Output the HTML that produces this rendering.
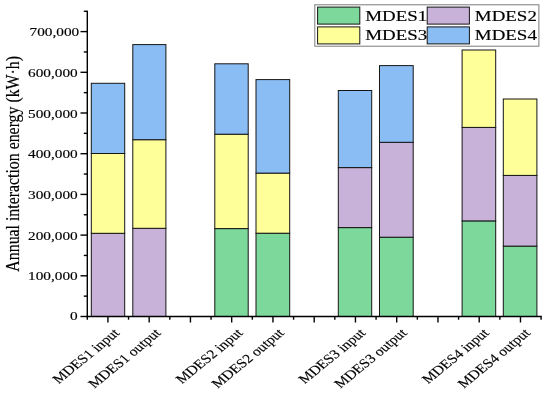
<!DOCTYPE html><html><head><meta charset="utf-8"><title>Annual interaction energy</title>
<style>html,body{margin:0;padding:0;background:#fff}svg{display:block}text{font-family:"Liberation Serif","Times New Roman",serif;fill:#000;stroke:#000;stroke-width:0.15px}</style></head><body>
<svg width="550" height="398" viewBox="0 0 550 398">
<rect width="550" height="398" fill="#fff"/>
<rect x="91.30" y="233.30" width="33.40" height="83.20" fill="#c8b2d9" stroke="#151515" stroke-width="1"/>
<rect x="91.30" y="153.50" width="33.40" height="79.80" fill="#ffff99" stroke="#151515" stroke-width="1"/>
<rect x="91.30" y="83.30" width="33.40" height="70.20" fill="#8bbdf5" stroke="#151515" stroke-width="1"/>
<rect x="132.80" y="228.30" width="33.10" height="88.20" fill="#c8b2d9" stroke="#151515" stroke-width="1"/>
<rect x="132.80" y="139.70" width="33.10" height="88.60" fill="#ffff99" stroke="#151515" stroke-width="1"/>
<rect x="132.80" y="44.60" width="33.10" height="95.10" fill="#8bbdf5" stroke="#151515" stroke-width="1"/>
<rect x="214.80" y="228.60" width="33.40" height="87.90" fill="#7dd89b" stroke="#151515" stroke-width="1"/>
<rect x="214.80" y="134.20" width="33.40" height="94.40" fill="#ffff99" stroke="#151515" stroke-width="1"/>
<rect x="214.80" y="63.80" width="33.40" height="70.40" fill="#8bbdf5" stroke="#151515" stroke-width="1"/>
<rect x="256.00" y="233.20" width="33.70" height="83.30" fill="#7dd89b" stroke="#151515" stroke-width="1"/>
<rect x="256.00" y="173.10" width="33.70" height="60.10" fill="#ffff99" stroke="#151515" stroke-width="1"/>
<rect x="256.00" y="79.60" width="33.70" height="93.50" fill="#8bbdf5" stroke="#151515" stroke-width="1"/>
<rect x="338.30" y="227.60" width="33.40" height="88.90" fill="#7dd89b" stroke="#151515" stroke-width="1"/>
<rect x="338.30" y="167.60" width="33.40" height="60.00" fill="#c8b2d9" stroke="#151515" stroke-width="1"/>
<rect x="338.30" y="90.50" width="33.40" height="77.10" fill="#8bbdf5" stroke="#151515" stroke-width="1"/>
<rect x="379.50" y="237.20" width="33.70" height="79.30" fill="#7dd89b" stroke="#151515" stroke-width="1"/>
<rect x="379.50" y="142.30" width="33.70" height="94.90" fill="#c8b2d9" stroke="#151515" stroke-width="1"/>
<rect x="379.50" y="65.60" width="33.70" height="76.70" fill="#8bbdf5" stroke="#151515" stroke-width="1"/>
<rect x="462.10" y="220.90" width="33.60" height="95.60" fill="#7dd89b" stroke="#151515" stroke-width="1"/>
<rect x="462.10" y="127.40" width="33.60" height="93.50" fill="#c8b2d9" stroke="#151515" stroke-width="1"/>
<rect x="462.10" y="50.00" width="33.60" height="77.40" fill="#ffff99" stroke="#151515" stroke-width="1"/>
<rect x="503.30" y="246.10" width="33.60" height="70.40" fill="#7dd89b" stroke="#151515" stroke-width="1"/>
<rect x="503.30" y="175.40" width="33.60" height="70.70" fill="#c8b2d9" stroke="#151515" stroke-width="1"/>
<rect x="503.30" y="99.00" width="33.60" height="76.40" fill="#ffff99" stroke="#151515" stroke-width="1"/>
<g stroke="#000" stroke-width="1.4" fill="none" stroke-linecap="butt">
<path d="M87.3 10.75V317.20"/>
<path d="M86.60 316.5H541.80"/>
<path d="M80.50 316.50H87.3"/>
<path d="M83.80 296.15H87.3"/>
<path d="M80.50 275.80H87.3"/>
<path d="M83.80 255.45H87.3"/>
<path d="M80.50 235.10H87.3"/>
<path d="M83.80 214.75H87.3"/>
<path d="M80.50 194.40H87.3"/>
<path d="M83.80 174.05H87.3"/>
<path d="M80.50 153.70H87.3"/>
<path d="M83.80 133.35H87.3"/>
<path d="M80.50 113.00H87.3"/>
<path d="M83.80 92.65H87.3"/>
<path d="M80.50 72.30H87.3"/>
<path d="M83.80 51.95H87.3"/>
<path d="M80.50 31.60H87.3"/>
<path d="M83.80 11.25H87.3"/>
<path d="M87.30 316.5V319.70"/>
<path d="M107.93 316.5V322.50"/>
<path d="M128.55 316.5V319.70"/>
<path d="M149.18 316.5V322.50"/>
<path d="M169.81 316.5V319.70"/>
<path d="M190.44 316.5V322.50"/>
<path d="M211.06 316.5V319.70"/>
<path d="M231.69 316.5V322.50"/>
<path d="M252.32 316.5V319.70"/>
<path d="M272.95 316.5V322.50"/>
<path d="M293.57 316.5V319.70"/>
<path d="M314.20 316.5V322.50"/>
<path d="M334.83 316.5V319.70"/>
<path d="M355.45 316.5V322.50"/>
<path d="M376.08 316.5V319.70"/>
<path d="M396.71 316.5V322.50"/>
<path d="M417.34 316.5V319.70"/>
<path d="M437.96 316.5V322.50"/>
<path d="M458.59 316.5V319.70"/>
<path d="M479.22 316.5V322.50"/>
<path d="M499.85 316.5V319.70"/>
<path d="M520.47 316.5V322.50"/>
<path d="M541.10 316.5V319.70"/>
</g>
<text transform="translate(77.7 320.40) scale(1.15 1)" font-size="13.3" text-anchor="end">0</text>
<text transform="translate(77.7 280.40) scale(1.15 1)" font-size="13.3" text-anchor="end">100,000</text>
<text transform="translate(77.7 239.70) scale(1.15 1)" font-size="13.3" text-anchor="end">200,000</text>
<text transform="translate(77.7 199.00) scale(1.15 1)" font-size="13.3" text-anchor="end">300,000</text>
<text transform="translate(77.7 158.30) scale(1.15 1)" font-size="13.3" text-anchor="end">400,000</text>
<text transform="translate(77.7 117.60) scale(1.15 1)" font-size="13.3" text-anchor="end">500,000</text>
<text transform="translate(77.7 76.90) scale(1.15 1)" font-size="13.3" text-anchor="end">600,000</text>
<text transform="translate(79.2 36.20) scale(1.15 1)" font-size="13.3" text-anchor="end">700,000</text>
<text transform="translate(19.1 163.8) scale(1.16 1) rotate(-90)" font-size="15.85" text-anchor="middle">Annual interaction energy (kW·h)</text>
<text transform="translate(120.43 333.80) scale(1.22 1) rotate(-45)" font-size="12.8" text-anchor="end">MDES1 input</text>
<text transform="translate(161.68 333.80) scale(1.22 1) rotate(-45)" font-size="12.8" text-anchor="end">MDES1 output</text>
<text transform="translate(243.59 333.80) scale(1.22 1) rotate(-45)" font-size="12.8" text-anchor="end">MDES2 input</text>
<text transform="translate(284.85 333.80) scale(1.22 1) rotate(-45)" font-size="12.8" text-anchor="end">MDES2 output</text>
<text transform="translate(366.45 333.80) scale(1.22 1) rotate(-45)" font-size="12.8" text-anchor="end">MDES3 input</text>
<text transform="translate(407.71 333.80) scale(1.22 1) rotate(-45)" font-size="12.8" text-anchor="end">MDES3 output</text>
<text transform="translate(489.92 333.80) scale(1.22 1) rotate(-45)" font-size="12.8" text-anchor="end">MDES4 input</text>
<text transform="translate(531.17 333.80) scale(1.22 1) rotate(-45)" font-size="12.8" text-anchor="end">MDES4 output</text>
<rect x="314.8" y="4.8" width="224.1" height="41.4" fill="#fff" stroke="#7c7c7c" stroke-width="1"/>
<rect x="317.6" y="7.1" width="42.2" height="17" fill="#7dd89b" stroke="#151515" stroke-width="1"/>
<rect x="427.2" y="7.1" width="42.2" height="17" fill="#c8b2d9" stroke="#151515" stroke-width="1"/>
<rect x="317.6" y="26.9" width="42.2" height="17" fill="#ffff99" stroke="#151515" stroke-width="1"/>
<rect x="427.2" y="26.9" width="42.2" height="17" fill="#8bbdf5" stroke="#151515" stroke-width="1"/>
<text transform="translate(365.2 21.3) scale(1.28 1)" font-size="14.8">MDES1</text>
<text transform="translate(474.8 21.3) scale(1.28 1)" font-size="14.8">MDES2</text>
<text transform="translate(365.2 40.3) scale(1.28 1)" font-size="14.8">MDES3</text>
<text transform="translate(474.8 40.3) scale(1.28 1)" font-size="14.8">MDES4</text>
</svg></body></html>
